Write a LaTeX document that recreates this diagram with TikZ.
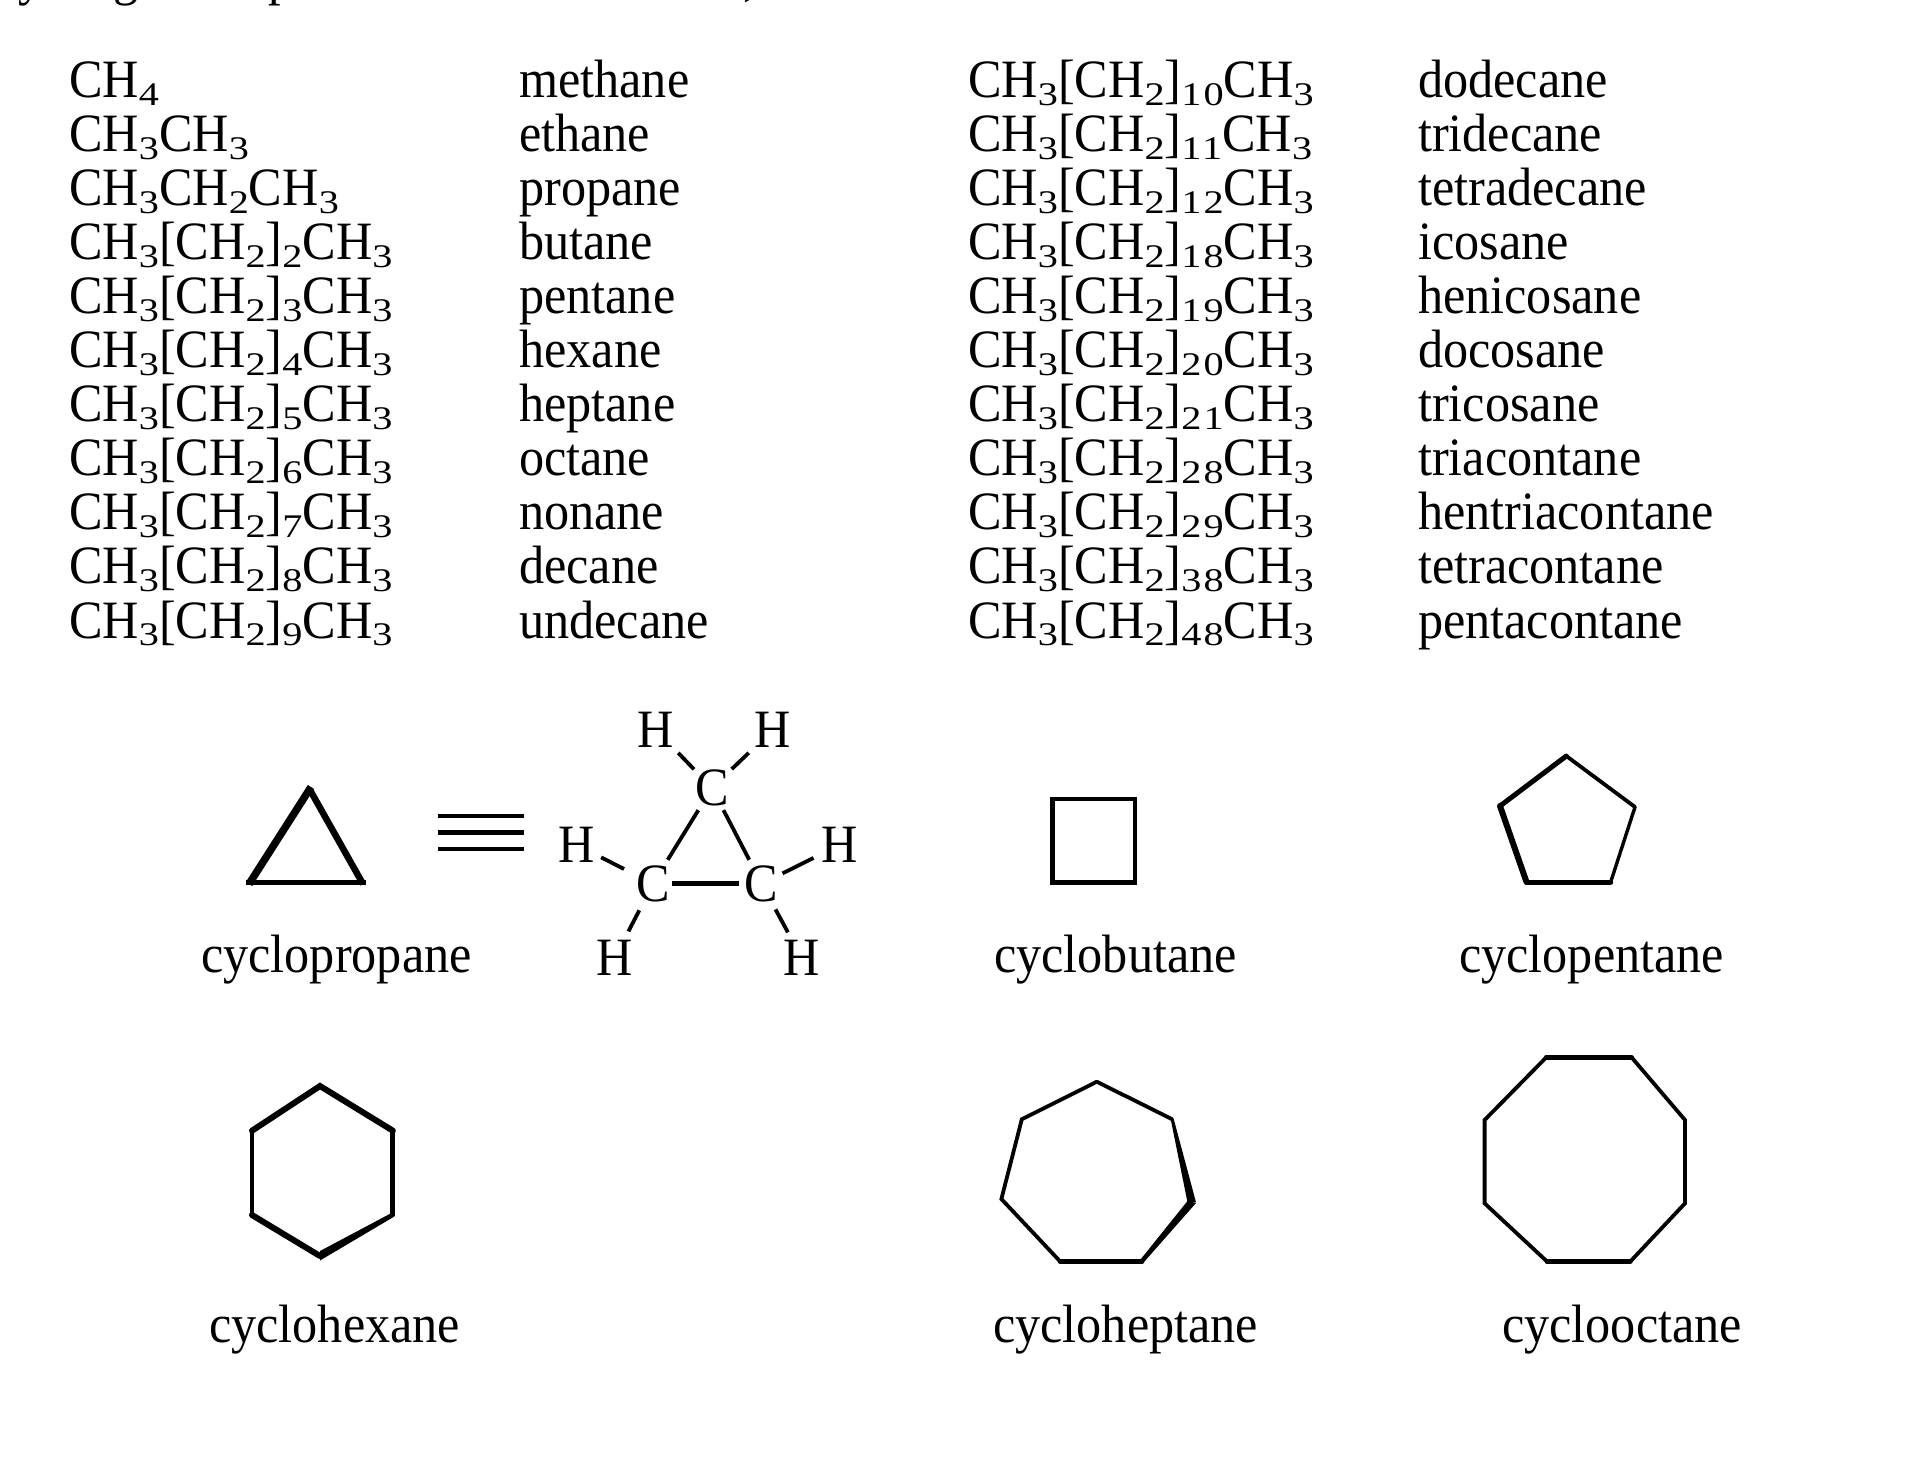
\documentclass[tikz,border=0pt]{standalone}
\usepackage{fontspec}
\setmainfont[FakeStretch=0.93]{Liberation Serif}
\newfontfamily\subfont[FakeStretch=1.22,LetterSpace=6.5]{Liberation Serif}
\newcommand{\subn}[1]{\raisebox{-7.5pt}{\subfont\fontsize{33}{33}\selectfont #1}}
\newcommand{\meth}{CH\subn{3}}
\newcommand{\chain}[1]{CH\subn{3}[CH\subn{2}]\subn{#1}CH\subn{3}}
\tikzset{
  txt/.style={anchor=base west,inner sep=0pt,font=\fontsize{54}{54}\selectfont},
  atomh/.style={inner xsep=6pt,inner ysep=5pt,text height=35.7pt,text depth=0pt,font=\fontsize{54}{54}\selectfont},
  atomc/.style={inner xsep=12pt,inner ysep=5pt,text height=35.7pt,text depth=0pt,font=\fontsize{54}{54}\selectfont},
  bond/.style={line width=3.8pt},
  ring/.style={line width=3.8pt,line cap=round},
  ringb/.style={line width=5pt,line cap=round},
}
\begin{document}
\begin{tikzpicture}[x=1pt,y=-1pt]
\useasboundingbox (0,0) rectangle (1932,1461);
\fill[white] (0,0) rectangle (1932,1461);
\begin{scope}
\clip (0,0) rectangle (1932,1461);
\node[txt] (top1) at (18,-5) {y};
\node[txt] (top2) at (113,-5) {g};
\node[txt] (top3) at (268,-5) {p};
\node[txt] (top4) at (743,-5) {,};
\end{scope}
% table
\node[txt] (f1) at (69,98) {CH\subn{4}};
\node[txt] (f2) at (69,151.5) {\meth\meth};
\node[txt] (f3) at (69,205.5) {\meth CH\subn{2}\meth};
\foreach \n/\yy in {2/259.5,3/313.5,4/367.5,5/421.7,6/475.7,7/529.8,8/583.8,9/638}
  \node[txt] (fa\n) at (69,\yy) {\chain{\n}};
\foreach \n/\t/\yy in {a/methane/98,b/ethane/151.5,c/propane/205.5,d/butane/259.5,e/pentane/313.5,f/hexane/367.5,g/heptane/421.7,h/octane/475.7,i/nonane/529.8,j/decane/583.8,k/undecane/638}
  \node[txt] (na\n) at (519,\yy) {\t};
\foreach \n/\m/\t/\yy in {a/10/dodecane/98,b/11/tridecane/151.5,c/12/tetradecane/205.5,d/18/icosane/259.5,e/19/henicosane/313.5,f/20/docosane/367.5,g/21/tricosane/421.7,h/28/triacontane/475.7,i/29/hentriacontane/529.8,j/38/tetracontane/583.8,k/48/pentacontane/638}{
  \node[txt] (fb\n) at (968,\yy) {\chain{\m}};
  \node[txt] (nb\n) at (1418,\yy) {\t};
}
% labels
\node[txt] (l3) at (201,972.5) {cyclopropane};
\node[txt] (l4) at (994,972.5) {cyclobutane};
\node[txt] (l5) at (1459,972.5) {cyclopentane};
\node[txt] (l6) at (209,1342.5) {cyclohexane};
\node[txt] (l7) at (993,1342.5) {cycloheptane};
\node[txt] (l8) at (1502,1342.5) {cyclooctane};
% triangle
\draw[line width=7.5pt] (249,884) -- (311,787);
\draw[line width=6.5pt] (310,790) -- (363,884);
\draw[line width=5pt] (246,882) -- (366,882);
% equiv
\draw[line width=4pt] (437.5,816) -- (523.7,816);
\draw[line width=5pt] (437.5,832) -- (523.7,832);
\draw[line width=4pt] (437.5,849) -- (523.7,849);
% structural formula
\node[atomc] (ct) at (712,788) {C};
\node[atomc] (cl) at (653,883.7) {C};
\node[atomc] (cr) at (761.6,883.7) {C};
\node[atomh] (h1) at (656,729.8) {H};
\node[atomh] (h2) at (772.8,729.8) {H};
\node[atomh] (h3) at (576.8,845) {H};
\node[atomh] (h4) at (839.7,845) {H};
\node[atomh] (h5) at (614.7,958) {H};
\node[atomh] (h6) at (801.8,958) {H};
\draw[bond,shorten >=-6pt] (h1) -- (ct);
\draw[bond,shorten >=-6pt] (h2) -- (ct);
\draw[bond] (h3) -- (cl);
\draw[bond,shorten <=2pt,shorten >=-9pt] (h4) -- (cr);
\draw[bond,shorten <=4pt,shorten >=4pt] (h5) -- (cl);
\draw[bond,shorten <=3pt,shorten >=3pt] (h6) -- (cr);
\draw[bond,shorten <=-1pt,shorten >=1pt] (ct) -- (cl);
\draw[bond,shorten <=-1pt,shorten >=1pt] (ct) -- (cr);
\draw[bond,line width=4.6pt,shorten <=-10pt,shorten >=-6.5pt] (cl) -- (cr);
% square
\draw[line width=5pt] (1052,796.5) -- (1052,884.5);
\draw[line width=3.6pt] (1134.7,796.5) -- (1134.7,884.5);
\draw[line width=3.4pt] (1050,799) -- (1136.5,799);
\draw[line width=4.7pt] (1050,882.3) -- (1136.5,882.3);
% pentagon
\draw[ringb] (1566.3,756) -- (1500,806);
\draw[ringb,line width=6pt] (1500,806) -- (1526.5,882);
\draw[ringb] (1526.5,882) -- (1610.7,882);
\draw[ring,line width=3.4pt] (1610.7,882) -- (1635,807);
\draw[ring] (1635,807) -- (1566.3,756);
% hexagon
\draw[ringb,line width=6pt] (252,1130.7) -- (320,1086) -- (392.9,1130.7);
\draw[ring,line width=4.4pt] (392.6,1130.7) -- (392.6,1215);
\draw[ring,line width=4.4pt] (252,1130.7) -- (252,1215);
\draw[ringb,line width=6pt] (252,1215) -- (320,1256);
\fill (320,1260.5) -- (393.5,1217) -- (391.5,1213) -- (320,1251) -- cycle;
% heptagon
\draw[ring] (1096.8,1081.7) -- (1172.3,1119.3);
\draw[ring] (1096.8,1081.7) -- (1021.8,1119.3) -- (1001.4,1199) -- (1060,1261.3);
\draw[ringb,line width=4.4pt] (1060,1261.3) -- (1142.2,1261.3);
\fill (1170.7,1119.3) -- (1173.8,1119.3) -- (1196,1202.3) -- (1187.5,1202.3) -- cycle;
\fill (1196,1203) -- (1144,1262) -- (1140.5,1259.5) -- (1187.5,1201) -- cycle;
% octagon
\draw[ringb] (1546.3,1057.3) -- (1631.5,1057.3);
\draw[ring] (1631.5,1057.3) -- (1685,1120) -- (1685,1203.3) -- (1630.5,1261.3);
\draw[ringb,line width=4.4pt] (1630.5,1261.3) -- (1546.8,1261.3);
\draw[ring] (1546.8,1261.3) -- (1484.6,1203.3) -- (1484.6,1120) -- (1546.3,1057.3);
\end{tikzpicture}
\end{document}
